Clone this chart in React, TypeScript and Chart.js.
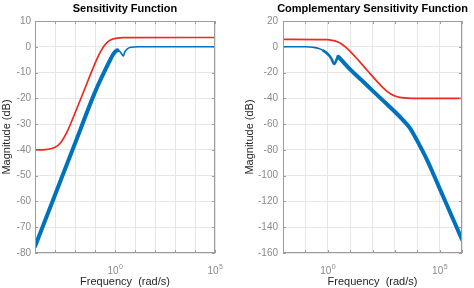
import { useEffect, useRef } from "react";
import { Chart, registerables } from "chart.js";

Chart.register(...registerables);

// Sensitivity function: performance bound (red) and sampled |S| (blue), dB over rad/s
const sensBoundFreq = [1e-4, 3.16e-4, 1e-3, 2e-3, 4e-3, 7.9e-3, 0.0158, 0.0316, 0.063, 0.126, 0.2, 0.316, 0.5, 0.79, 1.26, 2.5, 1e5];
const sensBoundDb = [-40, -39.9, -39.0, -37.0, -33.0, -27.7, -21.9, -16.1, -10.2, -4.7, -1.6, 0.8, 2.3, 3.0, 3.35, 3.55, 3.6];
const sensSampleFreq = [1e-4, 1e-3, 0.01, 0.1, 0.28, 0.5, 0.83, 1.12, 1.32, 1.78, 2.24, 2.63, 3.0, 4.0, 6.3, 16, 1e5];
const sensSampleDb = [-77.5, -57.5, -37.5, -17.6, -10, -6, -2.8, -1.6, -1.3, -1.9, -3.0, -3.6, -2.2, -0.9, -0.2, 0, 0];

// Complementary sensitivity: robustness bound (red) and sampled |T| (blue)
const compBoundFreq = [0.01, 1, 1.58, 2.51, 3.98, 6.31, 10, 20, 39.8, 79.4, 158, 316, 631, 1259, 2512, 6310, 1e6];
const compBoundDb = [5.8, 5.5, 5.0, 4.1, 2.4, -0.2, -3.5, -9.1, -15.0, -21.0, -26.8, -32.2, -36.5, -38.8, -39.7, -40, -40];
const compSampleFreq = [0.01, 0.1, 0.22, 0.4, 0.63, 1, 1.41, 1.95, 2.95, 3.5, 10, 31.6, 100, 316, 1000, 2500, 4800, 1e4, 2.7e4, 5.5e4, 1.74e5, 5.75e5, 1e6];
const compSampleDb = [0, 0, -0.4, -1.3, -3.0, -5.6, -8.8, -13.4, -7.7, -9.0, -17.5, -25.7, -34, -42.2, -50.4, -57.5, -63.3, -73, -87.5, -99.5, -119.5, -140, -149.5];

// Axis layout
const sensDecades = [1e-4, 1e-3, 1e-2, 1e-1, 1, 10, 100, 1e3, 1e4, 1e5];
const compDecades = [1e-2, 1e-1, 1, 10, 100, 1e3, 1e4, 1e5, 1e6];
const sensFreqLabels = [1, 1e5];
const compFreqLabels = [1, 1e5];
const sensDbRange = [-80, 10];
const compDbRange = [-160, 20];
const sensDbStep = 10;
const compDbStep = 20;

const RED = "#ee2a1e";
const BLUE = "#0072BD";
const FONT = "'Liberation Sans', Arial, Helvetica, sans-serif";
const W = 237;
const H = 288;

const toPoints = (f: number[], db: number[]) => f.map((x, i) => ({ x, y: db[i] }));

const panelDecor = {
  id: "panelDecor",
  afterDatasetsDraw(chart: any) {
    const { ctx, chartArea: a } = chart;
    const xs = chart.scales.x;
    const ys = chart.scales.y;
    ctx.save();
    ctx.strokeStyle = "#9c9c9c";
    ctx.lineWidth = 1;
    ctx.beginPath();
    for (const t of xs.ticks) {
      const px = Math.round(xs.getPixelForValue(t.value)) + 0.5;
      ctx.moveTo(px, a.bottom);
      ctx.lineTo(px, a.bottom - 3);
      ctx.moveTo(px, a.top);
      ctx.lineTo(px, a.top + 3);
    }
    for (const t of ys.ticks) {
      const py = Math.round(ys.getPixelForValue(t.value)) + 0.5;
      ctx.moveTo(a.left, py);
      ctx.lineTo(a.left + 3, py);
      ctx.moveTo(a.right, py);
      ctx.lineTo(a.right - 3, py);
    }
    ctx.stroke();
    ctx.strokeRect(
      Math.round(a.left) + 0.5,
      Math.round(a.top) + 0.5,
      Math.round(a.right - a.left) - 1,
      Math.round(a.bottom - a.top) - 1
    );
    ctx.restore();
  },
  afterDraw(chart: any) {
    const o = chart.options.plugins.panelDecor;
    const { ctx, chartArea: a } = chart;
    const xs = chart.scales.x;
    const cx = (a.left + a.right) / 2;
    const cy = (a.top + a.bottom) / 2;
    ctx.save();
    ctx.textBaseline = "alphabetic";

    // title
    ctx.fillStyle = "#000000";
    ctx.font = `bold 11px ${FONT}`;
    ctx.textAlign = "center";
    ctx.fillText(o.title, cx, 11.5);

    // decade labels with superscript exponent
    ctx.fillStyle = "#8a8a8a";
    for (const v of o.freqLabels as number[]) {
      const px = xs.getPixelForValue(v);
      const exp = String(Math.round(Math.log10(v)));
      ctx.font = `10px ${FONT}`;
      const wb = ctx.measureText("10").width;
      ctx.font = `7px ${FONT}`;
      const we = ctx.measureText(exp).width;
      const x0 = px - (wb + we) / 2;
      ctx.textAlign = "left";
      ctx.font = `10px ${FONT}`;
      ctx.fillText("10", x0, 274);
      ctx.font = `7px ${FONT}`;
      ctx.fillText(exp, x0 + wb + 0.5, 269);
    }

    // axis titles
    ctx.fillStyle = "#262626";
    ctx.font = `11px ${FONT}`;
    ctx.textAlign = "center";
    ctx.fillText("Frequency  (rad/s)", cx, 284.5);
    ctx.translate(o.yTitleX, cy);
    ctx.rotate(-Math.PI / 2);
    ctx.fillText("Magnitude (dB)", 0, 0);
    ctx.restore();
  },
};

type PanelProps = {
  title: string;
  boundFreq: number[];
  boundDb: number[];
  sampleFreq: number[];
  sampleDb: number[];
  sampleWidth: (f: number) => number;
  decades: number[];
  freqLabels: number[];
  dbRange: number[];
  dbStep: number;
  plotLeft: number;
  plotRight: number;
  yTitleX: number;
  tickPad: number;
  left: number;
};

function Panel(p: PanelProps) {
  const ref = useRef<HTMLCanvasElement | null>(null);
  useEffect(() => {
    if (!ref.current) return;
    const chart = new Chart(ref.current, {
      type: "line",
      data: {
        datasets: [
          {
            data: toPoints(p.sampleFreq, p.sampleDb),
            borderColor: BLUE,
            borderWidth: 4,
            pointRadius: 0,
            cubicInterpolationMode: "monotone",
            borderCapStyle: "round",
            borderJoinStyle: "round",
            clip: 0,
            segment: { borderWidth: (c: any) => p.sampleWidth(c.p0.parsed.x) },
          } as any,
          {
            data: toPoints(p.boundFreq, p.boundDb),
            borderColor: RED,
            borderWidth: 1.7,
            pointRadius: 0,
            cubicInterpolationMode: "monotone",
            clip: 0,
          } as any,
        ],
      },
      options: {
        animation: false,
        responsive: false,
        devicePixelRatio: 1,
        events: [],
        layout: { padding: { left: 0, right: W - p.plotRight, top: 21, bottom: 0 } },
        plugins: {
          legend: { display: false },
          tooltip: { enabled: false },
          panelDecor: { title: p.title, freqLabels: p.freqLabels, yTitleX: p.yTitleX },
        } as any,
        scales: {
          x: {
            type: "logarithmic",
            min: p.decades[0],
            max: p.decades[p.decades.length - 1],
            afterBuildTicks: (s: any) => {
              s.ticks = p.decades.map((value) => ({ value }));
            },
            afterFit: (s: any) => {
              s.height = H - 253;
            },
            ticks: { display: false },
            grid: { color: "#e6e6e6", drawTicks: false },
            border: { display: false },
          },
          y: {
            type: "linear",
            min: p.dbRange[0],
            max: p.dbRange[1],
            afterFit: (s: any) => {
              s.width = p.plotLeft;
            },
            ticks: {
              stepSize: p.dbStep,
              padding: p.tickPad,
              color: "#8a8a8a",
              font: { family: FONT, size: 10 },
            },
            grid: { color: "#e6e6e6", drawTicks: false },
            border: { display: false },
          },
        },
      } as any,
      plugins: [panelDecor as any],
    });
    return () => chart.destroy();
  }, []);
  return (
    <canvas
      ref={ref}
      width={W}
      height={H}
      style={{ position: "absolute", left: p.left, top: 0, width: W, height: H }}
    />
  );
}

export default function App() {
  return (
    <div style={{ position: "fixed", left: 0, top: 0, width: 474, height: 288, background: "#ffffff" }}>
      <Panel
        title="Sensitivity Function"
        boundFreq={sensBoundFreq}
        boundDb={sensBoundDb}
        sampleFreq={sensSampleFreq}
        sampleDb={sensSampleDb}
        sampleWidth={(f) => (f < 1.2 ? 4 : 1.6)}
        decades={sensDecades}
        freqLabels={sensFreqLabels}
        dbRange={sensDbRange}
        dbStep={sensDbStep}
        plotLeft={35}
        plotRight={215}
        yTitleX={9.5}
        tickPad={4}
        left={0}
      />
      <Panel
        title="Complementary Sensitivity Function"
        boundFreq={compBoundFreq}
        boundDb={compBoundDb}
        sampleFreq={compSampleFreq}
        sampleDb={compSampleDb}
        sampleWidth={(f) => (f < 0.5 ? 1.6 : f < 2 ? 2.6 : 4)}
        decades={compDecades}
        freqLabels={compFreqLabels}
        dbRange={compDbRange}
        dbStep={compDbStep}
        plotLeft={46}
        plotRight={225}
        yTitleX={16}
        tickPad={5}
        left={237}
      />
    </div>
  );
}
